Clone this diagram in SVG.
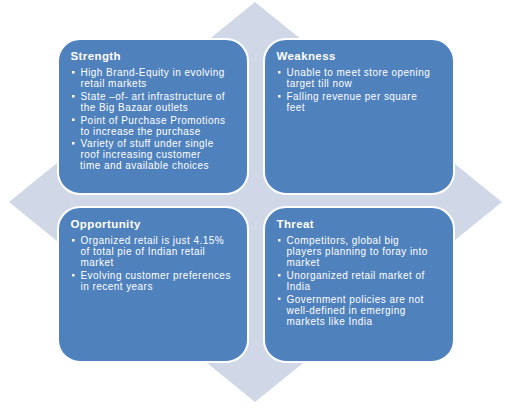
<svg xmlns="http://www.w3.org/2000/svg" width="514" height="415" viewBox="0 0 514 415">
<style>
.box{fill:#4F81BD;stroke:#FFFFFF;stroke-width:2}
.t{font-family:"Liberation Sans",Arial,sans-serif;font-size:11.5px;font-weight:bold;fill:#FFFFFF;letter-spacing:0.4px}
.x{font-family:"Liberation Sans",Arial,sans-serif;font-size:10px;fill:#FFFFFF;letter-spacing:0.45px}
.b{fill:#FFFFFF}
</style>
<rect width="514" height="415" fill="#FFFFFF"/>
<g id="background">
<polygon points="255,2 502,202 255,402 9,202" fill="#D0D8E8"/>
</g>
<g id="strength">
<rect class="box" x="58" y="39" width="190" height="155" rx="22" ry="22"/>
<text class="t" x="70.5" y="59.5">Strength</text>
<rect class="b" x="72" y="71" width="2.5" height="2.5"/>
<rect class="b" x="72" y="95" width="2.5" height="2.5"/>
<rect class="b" x="72" y="118.5" width="2.5" height="2.5"/>
<rect class="b" x="72" y="142" width="2.5" height="2.5"/>
<text class="x" x="80.5" y="76">High Brand-Equity in evolving</text>
<text class="x" x="80.5" y="87">retail markets</text>
<text class="x" x="80.5" y="100">State –of- art infrastructure of</text>
<text class="x" x="80.5" y="111">the Big Bazaar outlets</text>
<text class="x" x="80.5" y="123.5">Point of Purchase Promotions</text>
<text class="x" x="80.5" y="134.5">to increase the purchase</text>
<text class="x" x="80.5" y="147">Variety of stuff under single</text>
<text class="x" x="80.5" y="158">roof  increasing customer</text>
<text class="x" x="80" y="169">time and available choices</text>
</g>
<g id="weakness">
<rect class="box" x="264" y="39" width="190" height="155" rx="22" ry="22"/>
<text class="t" x="276.5" y="59.5">Weakness</text>
<rect class="b" x="278" y="71" width="2.5" height="2.5"/>
<rect class="b" x="278" y="95" width="2.5" height="2.5"/>
<text class="x" x="286.5" y="76">Unable to meet store opening</text>
<text class="x" x="286.5" y="87">target till now</text>
<text class="x" x="286.5" y="100">Falling revenue per square</text>
<text class="x" x="286.5" y="111">feet</text>
</g>
<g id="opportunity">
<rect class="box" x="58" y="207" width="190" height="155" rx="22" ry="22"/>
<text class="t" x="70.5" y="228">Opportunity</text>
<rect class="b" x="72" y="239" width="2.5" height="2.5"/>
<rect class="b" x="72" y="274" width="2.5" height="2.5"/>
<text class="x" x="80.5" y="244">Organized retail is just 4.15%</text>
<text class="x" x="80.5" y="255">of total pie of Indian retail</text>
<text class="x" x="80.5" y="266">market</text>
<text class="x" x="80.5" y="279">Evolving customer preferences</text>
<text class="x" x="80.5" y="290">in recent years</text>
</g>
<g id="threat">
<rect class="box" x="264" y="207" width="190" height="155" rx="22" ry="22"/>
<text class="t" x="276.5" y="228">Threat</text>
<rect class="b" x="278" y="239" width="2.5" height="2.5"/>
<rect class="b" x="278" y="274" width="2.5" height="2.5"/>
<rect class="b" x="278" y="297.5" width="2.5" height="2.5"/>
<text class="x" x="286.5" y="244">Competitors, global big</text>
<text class="x" x="286.5" y="255">players planning to foray into</text>
<text class="x" x="286.5" y="266">market</text>
<text class="x" x="286.5" y="279">Unorganized retail market of</text>
<text class="x" x="286.5" y="290">India</text>
<text class="x" x="286.5" y="302.5">Government policies are not</text>
<text class="x" x="286.5" y="313.5">well-defined in emerging</text>
<text class="x" x="286.5" y="324.5">markets like India</text>
</g>
</svg>
